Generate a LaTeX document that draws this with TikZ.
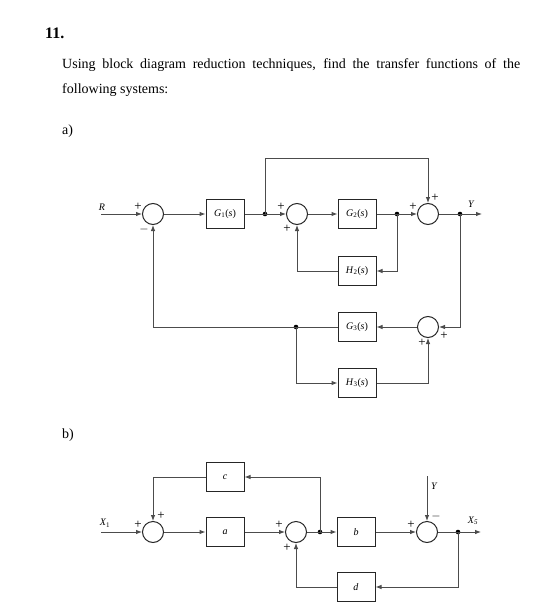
\documentclass[tikz,border=0pt]{standalone}
\usepackage{fontspec}
\setmainfont{Liberation Serif}
\usetikzlibrary{arrows.meta}
\newcommand{\tfn}[2]{\textit{#1}\textsubscript{#2}(\textit{s})}
\begin{document}
\begin{tikzpicture}[x=1pt, y=-1pt,
  every node/.style={inner sep=0pt},
  blockbox/.style={draw=black!85, line width=1pt, minimum width=38pt, minimum height=29pt, font=\fontsize{10}{11}\selectfont},
  sumnode/.style={draw=black!85, line width=1pt, circle, minimum size=21pt},
  sig/.style={draw=black!70, line width=1pt, -{Latex[length=6pt,width=4.6pt]}},
  sign/.style={font=\fontsize{13}{13}\selectfont},
  lbl/.style={font=\fontsize{10}{11}\selectfont\itshape},
  dot/.style={fill=black, circle, minimum size=4.6pt}]
  \useasboundingbox (0,0) rectangle (557,613);

  % Heading
  \node[anchor=base west, font=\fontsize{16}{18}\selectfont\bfseries] (num) at (45,38) {11.};
  \node[anchor=base west, font=\fontsize{14}{16}\selectfont] (line1) at (62,68)
    {\makebox[458pt][s]{Using block diagram reduction techniques, find the transfer functions of the}};
  \node[anchor=base west, font=\fontsize{14}{16}\selectfont] (line2) at (62,93) {following systems:};
  \node[anchor=base west, font=\fontsize{14}{16}\selectfont] (parta) at (62,134) {a)};
  \node[anchor=base west, font=\fontsize{14}{16}\selectfont] (partb) at (62,438) {b)};

  % a) blocks
  \node[sumnode] (sumA) at (153,214) {};
  \node[blockbox] (gA) at (225,214) {\tfn{G}{1}};
  \node[sumnode] (sumB) at (297,214) {};
  \node[blockbox] (gB) at (357,214) {\tfn{G}{2}};
  \node[blockbox] (hB) at (357,271) {\tfn{H}{2}};
  \node[sumnode] (sumC) at (428,214) {};
  \node[blockbox] (gC) at (357,327) {\tfn{G}{3}};
  \node[sumnode] (sumD) at (428,327) {};
  \node[blockbox] (hC) at (357,383) {\tfn{H}{3}};
  \coordinate (inR) at (101,214);
  \coordinate (outY) at (482,214);
  \node[dot] (brA) at (265,214) {};
  \node[dot] (brB) at (397,214) {};
  \node[dot] (brY) at (460,214) {};
  \node[dot] (brG) at (296,327) {};

  % a) connections
  \draw[sig] (inR) -- (sumA);
  \draw[sig] (sumA) -- (gA);
  \draw[sig] (gA) -- (sumB);
  \draw[sig] (brA.center) -- ++(0,-56) -| (sumC);
  \draw[sig] (sumB) -- (gB);
  \draw[sig] (gB) -- (sumC);
  \draw[sig] (brB.center) |- (hB);
  \draw[sig] (hB) -| (sumB);
  \draw[sig] (sumC) -- (outY);
  \draw[sig] (brY.center) |- (sumD);
  \draw[sig] (sumD) -- (gC);
  \draw[sig] (gC) -| (sumA);
  \draw[sig] (brG.center) |- (hC);
  \draw[sig] (hC) -| (sumD);

  % a) labels and signs
  \node[lbl] (lR) at (102,207) {R};
  \node[lbl] (lY) at (471,204) {Y};
  \node[sign] at (138,207) {+};
  \node[sign] at (144,229) {$-$};
  \node[sign] at (281,207) {+};
  \node[sign] at (287,229) {+};
  \node[sign] at (413,207) {+};
  \node[sign] at (435,198) {+};
  \node[sign] at (444,336) {+};
  \node[sign] at (422,343) {+};

  % b) blocks
  \node[sumnode] (sumE) at (153,532) {};
  \node[blockbox] (boxC) at (225,477) {\textit{c}};
  \node[blockbox] (boxA) at (225,532) {\textit{a}};
  \node[sumnode] (sumF) at (296,532) {};
  \node[blockbox] (boxB) at (356,532) {\textit{b}};
  \node[sumnode] (sumG) at (427,532) {};
  \node[blockbox] (boxD) at (356,587) {\textit{d}};
  \coordinate (inX) at (101,532);
  \coordinate (inY) at (427,476);
  \coordinate (outX) at (481,532);
  \node[dot] (brF) at (320,532) {};
  \node[dot] (brX) at (458,532) {};

  % b) connections
  \draw[sig] (inX) -- (sumE);
  \draw[sig] (sumE) -- (boxA);
  \draw[sig] (boxA) -- (sumF);
  \draw[sig] (sumF) -- (boxB);
  \draw[sig] (brF.center) |- (boxC);
  \draw[sig] (boxC) -| (sumE);
  \draw[sig] (boxB) -- (sumG);
  \draw[sig] (inY) -- (sumG);
  \draw[sig] (sumG) -- (outX);
  \draw[sig] (brX.center) |- (boxD);
  \draw[sig] (boxD) -| (sumF);

  % b) labels and signs
  \node[lbl] (lX1) at (105,523) {X\textsubscript{\upshape 1}};
  \node[lbl] (lX5) at (473,521) {X\textsubscript{5}};
  \node[lbl] (lYb) at (434,486) {Y};
  \node[sign] at (138,525) {+};
  \node[sign] at (161,516) {+};
  \node[sign] at (279,525) {+};
  \node[sign] at (287,548) {+};
  \node[sign] at (411,525) {+};
  \node[sign] at (436,516) {$-$};
\end{tikzpicture}
\end{document}
